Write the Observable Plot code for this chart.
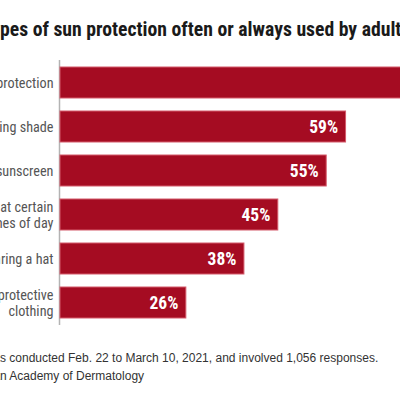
<!DOCTYPE html>
<html><head><meta charset="utf-8">
<script src="https://cdn.jsdelivr.net/npm/d3@7"></script>
<script src="https://cdn.jsdelivr.net/npm/@observablehq/plot@0.6"></script>
<style>
html,body{margin:0;padding:0;width:400px;height:400px;overflow:hidden;background:#fff;}
#page{position:relative;width:400px;height:400px;overflow:hidden;}
.cond{font-family:"Roboto Condensed","Liberation Sans Narrow","DejaVu Sans Condensed","Arial Narrow",sans-serif;font-stretch:condensed;}
#title{position:absolute;top:19px;white-space:nowrap;font-size:19.7px;font-weight:bold;color:#1a1a1a;line-height:22px;}
.note{position:absolute;white-space:nowrap;font-family:"Liberation Sans",Arial,sans-serif;font-size:12px;color:#333;line-height:14px;}
#chart{position:absolute;left:-200px;top:52px;width:744px;}
#chart svg{max-width:none !important;}
</style></head><body><div id="page">
<div id="title" class="cond">Types of sun protection often or always used by adults</div>
<div id="chart"></div>
<div id="note1" class="note">Note: Survey was conducted Feb. 22 to March 10, 2021, and involved 1,056 responses.</div>
<div id="note2" class="note">Source: American Academy of Dermatology</div>
</div>
<script>
const categories = ["Any sun protection","Seeking shade","Wearing sunscreen","Avoiding the sun at certain\ntimes of day","Wearing a hat","Wearing protective\nclothing"];
const values = [80, 59, 55, 45, 38, 26];
const valueLabels = ["80%", "59%", "55%", "45%", "38%", "26%"];

const data = categories.map((c, i) => ({category: c, value: values[i], label: valueLabels[i]}));
const condFont = '"Roboto Condensed","Liberation Sans Narrow","DejaVu Sans Condensed","Arial Narrow",sans-serif';

const chart = Plot.plot({
  width: 744, height: 280,
  marginLeft: 260, marginRight: 0, marginTop: 8, marginBottom: 7,
  style: {fontFamily: condFont, fontStretch: "condensed", background: "transparent", maxWidth: "none"},
  x: {domain: [0, 100], axis: null},
  y: {domain: categories, axis: null, paddingInner: 0.3, paddingOuter: 0.14},
  marks: [
    Plot.ruleX([0], {stroke: "#b3b3b3", strokeWidth: 1.5, dx: -1}),
    Plot.barX(data, {x: "value", y: "category", fill: "#a50c22", stroke: "#d45a6a", strokeWidth: 1}),
    Plot.text(data, {x: 0, y: "category", text: "category", textAnchor: "end", dx: -7, fill: "#555", fontSize: 14.2, lineHeight: 1.15}),
    Plot.text(data, {x: "value", y: "category", text: "label", textAnchor: "end", dx: -8, fill: "white", fontWeight: "bold", fontSize: 17.5})
  ]
});
document.getElementById("chart").appendChild(chart);

function measure(text, el) {
  const s = document.createElement("span");
  const cs = getComputedStyle(el);
  s.style.font = cs.font; s.style.fontStretch = cs.fontStretch;
  s.style.position = "absolute"; s.style.visibility = "hidden"; s.style.whiteSpace = "nowrap";
  s.textContent = text;
  document.body.appendChild(s);
  const w = s.getBoundingClientRect().width;
  s.remove();
  return w;
}
const t = document.getElementById("title");
t.style.left = (-measure("Ty", t)) + "px";
const n1 = document.getElementById("note1"), n2 = document.getElementById("note2");
n1.style.left = (-measure("Note: Survey wa", n1)) + "px"; n1.style.top = "351px";
n2.style.left = (-measure("Source: America", n2)) + "px"; n2.style.top = "369px";
</script>
</body></html>
